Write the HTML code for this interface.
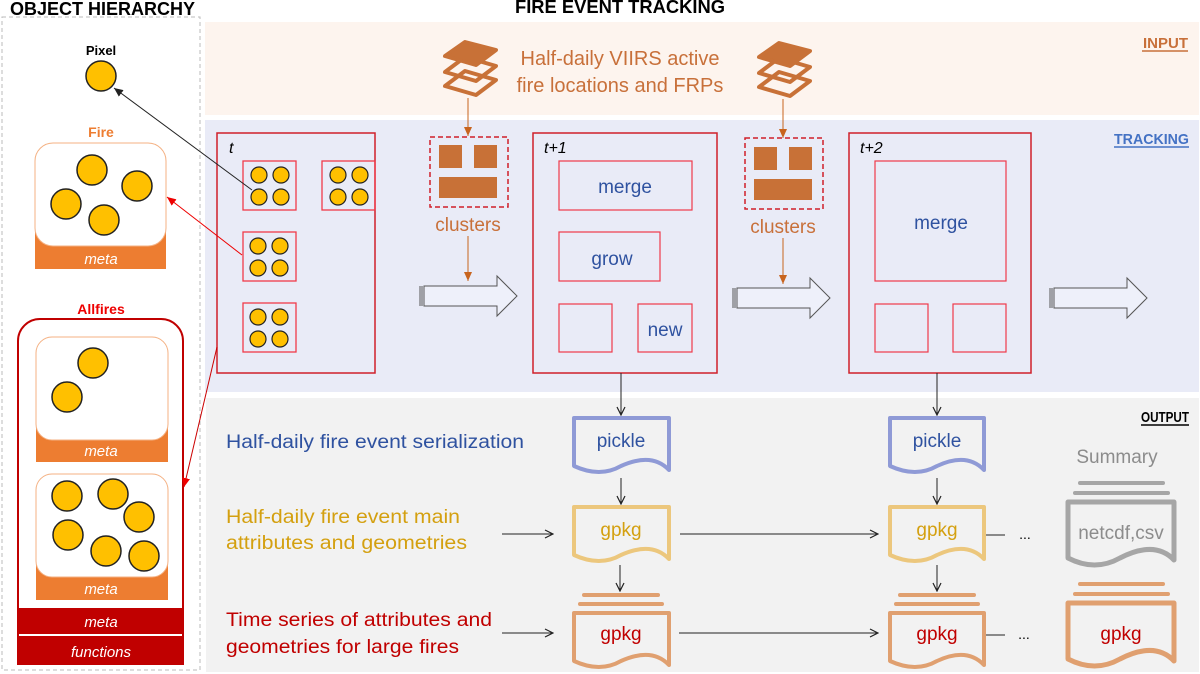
<!DOCTYPE html>
<html><head><meta charset="utf-8"><style>
html,body{margin:0;padding:0;background:#fff;}
svg{display:block;font-family:"Liberation Sans",sans-serif;}
</style></head><body>
<svg width="1200" height="674" viewBox="0 0 1200 674" xmlns="http://www.w3.org/2000/svg">
<defs>
<marker id="ak" markerWidth="10" markerHeight="10" refX="9" refY="5" orient="auto" markerUnits="userSpaceOnUse"><path d="M1,1 L9,5 L1,9" fill="none" stroke="#222" stroke-width="1.2"/></marker>
<marker id="akf" markerWidth="10" markerHeight="10" refX="9" refY="5" orient="auto" markerUnits="userSpaceOnUse"><path d="M0,1 L9,5 L0,9 Z" fill="#222"/></marker>
<marker id="ar" markerWidth="10" markerHeight="10" refX="9" refY="5" orient="auto" markerUnits="userSpaceOnUse"><path d="M0,1 L9,5 L0,9 Z" fill="#e00"/></marker>
<marker id="ao" markerWidth="10" markerHeight="10" refX="9" refY="5" orient="auto" markerUnits="userSpaceOnUse"><path d="M0,1 L9,5 L0,9 Z" fill="#c8641e"/></marker>
</defs>
<!-- bands -->
<rect x="205" y="22" width="994" height="93" fill="#fdf4ee"/>
<rect x="205" y="120" width="994" height="272" fill="#e9ebf7"/>
<rect x="206" y="398" width="993" height="274" fill="#f2f2f2"/>
<rect x="2" y="17" width="198" height="653" fill="none" stroke="#bbb" stroke-dasharray="4,3"/>
<!-- titles -->
<text x="10" y="15" font-size="18" font-weight="bold" textLength="185" lengthAdjust="spacingAndGlyphs">OBJECT HIERARCHY</text>
<text x="515" y="13" font-size="18" font-weight="bold" textLength="210" lengthAdjust="spacingAndGlyphs">FIRE EVENT TRACKING</text>
<text x="1188" y="48" font-size="15" font-weight="bold" fill="#c8703a" text-anchor="end" textLength="45" lengthAdjust="spacingAndGlyphs">INPUT</text>
<line x1="1142" y1="51" x2="1188" y2="51" stroke="#c8703a" stroke-width="1.5"/>
<text x="1189" y="144" font-size="15" font-weight="bold" fill="#4472c4" text-anchor="end" textLength="75" lengthAdjust="spacingAndGlyphs">TRACKING</text>
<line x1="1114" y1="147" x2="1189" y2="147" stroke="#4472c4" stroke-width="1.5"/>
<text x="1189" y="422" font-size="15" font-weight="bold" fill="#000" text-anchor="end" textLength="48" lengthAdjust="spacingAndGlyphs">OUTPUT</text>
<line x1="1141" y1="425" x2="1189" y2="425" stroke="#000" stroke-width="1.5"/>

<!-- Left hierarchy -->
<g stroke="#222" stroke-width="1.5" fill="#ffc000">
<text x="101" y="55" font-size="13" font-weight="bold" text-anchor="middle" fill="#000" stroke="none">Pixel</text>
<circle cx="101" cy="76" r="15"/>
<text x="101" y="137" font-size="14" font-weight="bold" text-anchor="middle" fill="#ed7d31" stroke="none">Fire</text>
<rect x="35" y="228" width="131" height="41" fill="#ed7d31" stroke="none"/>
<rect x="35" y="143" width="131" height="103" rx="18" fill="#fff" stroke="#f4b183" stroke-width="1"/>
<text x="101" y="264" font-size="15" font-style="italic" text-anchor="middle" fill="#fff" stroke="none">meta</text>
<circle cx="92" cy="170" r="15"/><circle cx="137" cy="186" r="15"/><circle cx="66" cy="204" r="15"/><circle cx="104" cy="220" r="15"/>
<text x="101" y="314" font-size="14" font-weight="bold" text-anchor="middle" fill="#e00" stroke="none">Allfires</text>
<rect x="18" y="319" width="165" height="345" rx="22" fill="#fff" stroke="#c00000" stroke-width="2"/>
<rect x="17" y="608" width="167" height="57" fill="#c00000" stroke="none"/>
<line x1="19" y1="635" x2="182" y2="635" stroke="#fff" stroke-width="2"/>
<text x="101" y="627" font-size="15" font-style="italic" text-anchor="middle" fill="#fff" stroke="none">meta</text>
<text x="101" y="657" font-size="15" font-style="italic" text-anchor="middle" fill="#fff" stroke="none">functions</text>
<rect x="36" y="420" width="132" height="42" fill="#ed7d31" stroke="none"/>
<rect x="36" y="337" width="132" height="103" rx="16" fill="#fff" stroke="#f4b183" stroke-width="1"/>
<text x="101" y="456" font-size="15" font-style="italic" text-anchor="middle" fill="#fff" stroke="none">meta</text>
<circle cx="93" cy="363" r="15"/><circle cx="67" cy="397" r="15"/>
<rect x="36" y="558" width="132" height="42" fill="#ed7d31" stroke="none"/>
<rect x="36" y="474" width="132" height="103" rx="16" fill="#fff" stroke="#f4b183" stroke-width="1"/>
<text x="101" y="594" font-size="15" font-style="italic" text-anchor="middle" fill="#fff" stroke="none">meta</text>
<circle cx="67" cy="496" r="15"/><circle cx="113" cy="494" r="15"/><circle cx="139" cy="517" r="15"/><circle cx="68" cy="535" r="15"/><circle cx="106" cy="551" r="15"/><circle cx="144" cy="556" r="15"/>
</g>

<!-- t box -->
<rect x="217" y="133" width="158" height="240" fill="none" stroke="#d0202a" stroke-width="1.5"/>
<text x="229" y="153" font-size="16" font-style="italic">t</text>
<g fill="none" stroke="#f03a4a" stroke-width="1.3">
<rect x="243" y="161" width="53" height="49"/><rect x="322" y="161" width="53" height="49"/>
<rect x="243" y="232" width="53" height="49"/><rect x="243" y="303" width="53" height="49"/>
</g>
<g fill="#ffc000" stroke="#222" stroke-width="1.2">
<circle cx="259" cy="175" r="8"/><circle cx="281" cy="175" r="8"/><circle cx="259" cy="197" r="8"/><circle cx="281" cy="197" r="8"/>
<circle cx="338" cy="175" r="8"/><circle cx="360" cy="175" r="8"/><circle cx="338" cy="197" r="8"/><circle cx="360" cy="197" r="8"/>
<circle cx="258" cy="246" r="8"/><circle cx="280" cy="246" r="8"/><circle cx="258" cy="268" r="8"/><circle cx="280" cy="268" r="8"/>
<circle cx="258" cy="317" r="8"/><circle cx="280" cy="317" r="8"/><circle cx="258" cy="339" r="8"/><circle cx="280" cy="339" r="8"/>
</g>
<line x1="252" y1="190" x2="114" y2="88" stroke="#222" stroke-width="1" marker-end="url(#akf)"/>
<line x1="242" y1="255" x2="167" y2="197" stroke="#e00" stroke-width="1" marker-end="url(#ar)"/>
<line x1="217" y1="347" x2="184" y2="487" stroke="#c00" stroke-width="1" marker-end="url(#ar)"/>

<!-- input -->
<g fill="#c8703a">
<text x="620" y="65" font-size="20" text-anchor="middle">Half-daily VIIRS active</text>
<text x="620" y="92" font-size="20" text-anchor="middle">fire locations and FRPs</text>
</g>
<g id="layers" fill="none" stroke="#c87137" stroke-width="4" stroke-linejoin="round">
<path d="M445,86 L465,71 L496,80 L476,95 Z"/>
<path d="M445,72 L465,57 L496,66 L476,81 Z"/>
<path d="M445,56 L465,42 L496,50 L476,65 Z" fill="#c87137"/>
</g>
<use href="#layers" x="314" y="1"/>
<line x1="468" y1="98" x2="468" y2="136" stroke="#c8641e" stroke-width="1" marker-end="url(#ao)"/>
<line x1="783" y1="99" x2="783" y2="138" stroke="#c8641e" stroke-width="1" marker-end="url(#ao)"/>
<!-- clusters -->
<g>
<rect x="430" y="137" width="78" height="70" fill="none" stroke="#d0202a" stroke-width="1.5" stroke-dasharray="5,3"/>
<rect x="439" y="145" width="23" height="23" fill="#c87137"/><rect x="474" y="145" width="23" height="23" fill="#c87137"/>
<rect x="439" y="177" width="58" height="21" fill="#c87137"/>
<text x="468" y="231" font-size="19" text-anchor="middle" fill="#c8703a">clusters</text>
<line x1="468" y1="236" x2="468" y2="281" stroke="#c8641e" stroke-width="1" marker-end="url(#ao)"/>
</g>
<g>
<rect x="745" y="138" width="78" height="71" fill="none" stroke="#d0202a" stroke-width="1.5" stroke-dasharray="5,3"/>
<rect x="754" y="147" width="23" height="23" fill="#c87137"/><rect x="789" y="147" width="23" height="23" fill="#c87137"/>
<rect x="754" y="179" width="58" height="21" fill="#c87137"/>
<text x="783" y="233" font-size="19" text-anchor="middle" fill="#c8703a">clusters</text>
<line x1="783" y1="238" x2="783" y2="284" stroke="#c8641e" stroke-width="1" marker-end="url(#ao)"/>
</g>
<!-- big arrows -->
<g fill="#eef0fa" stroke="#555" stroke-width="1">
<path d="M424,286 H497 V276 L517,296 L497,316 V306 H424 Z"/>
<path d="M737,288 H810 V278 L830,298 L810,318 V308 H737 Z"/>
<path d="M1054,288 H1127 V278 L1147,298 L1127,318 V308 H1054 Z"/>
</g>
<g fill="none" stroke="#555" stroke-width="1">
<path d="M420,286 V306 M422,286 V306"/>
<path d="M733,288 V308 M735,288 V308"/>
<path d="M1050,288 V308 M1052,288 V308"/>
</g>
<!-- t+1 -->
<rect x="533" y="133" width="184" height="240" fill="none" stroke="#d0202a" stroke-width="1.5"/>
<text x="544" y="153" font-size="16" font-style="italic">t+1</text>
<g fill="none" stroke="#f03a4a" stroke-width="1.2">
<rect x="559" y="161" width="133" height="49"/><rect x="559" y="232" width="101" height="49"/>
<rect x="559" y="304" width="53" height="48"/><rect x="638" y="304" width="54" height="48"/>
<rect x="875" y="161" width="131" height="120"/><rect x="875" y="304" width="53" height="48"/><rect x="953" y="304" width="53" height="48"/>
</g>
<g fill="#2f52a0" font-size="19" text-anchor="middle">
<text x="625" y="193">merge</text><text x="612" y="265">grow</text><text x="665" y="336">new</text>
<text x="941" y="229">merge</text>
</g>
<!-- t+2 -->
<rect x="849" y="133" width="182" height="240" fill="none" stroke="#d0202a" stroke-width="1.5"/>
<text x="860" y="153" font-size="16" font-style="italic">t+2</text>

<!-- output -->
<text x="226" y="448" font-size="19" fill="#2f52a0" textLength="298" lengthAdjust="spacingAndGlyphs">Half-daily fire event serialization</text>
<text x="226" y="523" font-size="19" fill="#d4a010" textLength="234" lengthAdjust="spacingAndGlyphs">Half-daily fire event main</text>
<text x="226" y="549" font-size="19" fill="#d4a010" textLength="241" lengthAdjust="spacingAndGlyphs">attributes and geometries</text>
<text x="226" y="626" font-size="19" fill="#c00000" textLength="266" lengthAdjust="spacingAndGlyphs">Time series of attributes and</text>
<text x="226" y="653" font-size="19" fill="#c00000" textLength="233" lengthAdjust="spacingAndGlyphs">geometries for large fires</text>

<g stroke="#222" stroke-width="1" fill="none">
<line x1="621" y1="373" x2="621" y2="415" marker-end="url(#ak)"/>
<line x1="937" y1="373" x2="937" y2="415" marker-end="url(#ak)"/>
<line x1="621" y1="478" x2="621" y2="504" marker-end="url(#ak)"/>
<line x1="937" y1="478" x2="937" y2="504" marker-end="url(#ak)"/>
<line x1="620" y1="565" x2="620" y2="591" marker-end="url(#ak)"/>
<line x1="937" y1="565" x2="937" y2="591" marker-end="url(#ak)"/>
<line x1="502" y1="534" x2="553" y2="534" marker-end="url(#ak)"/>
<line x1="680" y1="534" x2="878" y2="534" marker-end="url(#ak)"/>
<line x1="502" y1="633" x2="553" y2="633" marker-end="url(#ak)"/>
<line x1="679" y1="633" x2="878" y2="633" marker-end="url(#ak)"/>
<line x1="984" y1="535" x2="1005" y2="535"/>
<line x1="984" y1="635" x2="1005" y2="635"/>
</g>
<text x="1025" y="539" font-size="14" text-anchor="middle">...</text>
<text x="1024" y="639" font-size="14" text-anchor="middle">...</text>

<g fill="none" stroke-width="4" stroke-linejoin="round">
<path d="M574,418 H669 V470 Q652,452 621,466 Q600,478 574,466 Z" stroke="#8f9ad6"/>
<path d="M890,418 H984 V470 Q967,452 937,466 Q916,478 890,466 Z" stroke="#8f9ad6"/>
<path d="M574,507 H669 V559 Q652,541 621,555 Q600,567 574,555 Z" stroke="#ecc77d"/>
<path d="M890,507 H984 V559 Q967,541 937,555 Q916,567 890,555 Z" stroke="#ecc77d"/>
<path d="M574,613 H669 V665 Q652,647 621,661 Q600,673 574,661 Z" stroke="#e0a070"/>
<path d="M890,613 H984 V665 Q967,647 937,661 Q916,673 890,661 Z" stroke="#e0a070"/>
<path d="M1068,502 H1174 V560 Q1155,540 1120,558 Q1095,572 1068,558 Z" stroke="#a6a6a6" stroke-width="5"/>
<path d="M1068,603 H1174 V661 Q1155,641 1120,659 Q1095,673 1068,659 Z" stroke="#e0a070" stroke-width="5"/>
</g>
<g stroke-width="4" stroke-linecap="round">
<line x1="584" y1="595" x2="658" y2="595" stroke="#e0a070"/><line x1="580" y1="604" x2="662" y2="604" stroke="#e0a070"/>
<line x1="900" y1="595" x2="974" y2="595" stroke="#e0a070"/><line x1="896" y1="604" x2="978" y2="604" stroke="#e0a070"/>
<line x1="1080" y1="483" x2="1163" y2="483" stroke="#a6a6a6"/><line x1="1075" y1="493" x2="1168" y2="493" stroke="#a6a6a6"/>
<line x1="1080" y1="584" x2="1163" y2="584" stroke="#e0a070"/><line x1="1075" y1="594" x2="1168" y2="594" stroke="#e0a070"/>
</g>
<g font-size="19" text-anchor="middle">
<text x="621" y="447" fill="#2f52a0">pickle</text>
<text x="937" y="447" fill="#2f52a0">pickle</text>
<text x="621" y="536" fill="#d4a010">gpkg</text>
<text x="937" y="536" fill="#d4a010">gpkg</text>
<text x="621" y="640" fill="#c00000">gpkg</text>
<text x="937" y="640" fill="#c00000">gpkg</text>
<text x="1121" y="640" fill="#c00000">gpkg</text>
<text x="1121" y="539" fill="#8c8c8c">netcdf,csv</text>
<text x="1117" y="463" fill="#8c8c8c">Summary</text>
</g>
</svg>
</body></html>
